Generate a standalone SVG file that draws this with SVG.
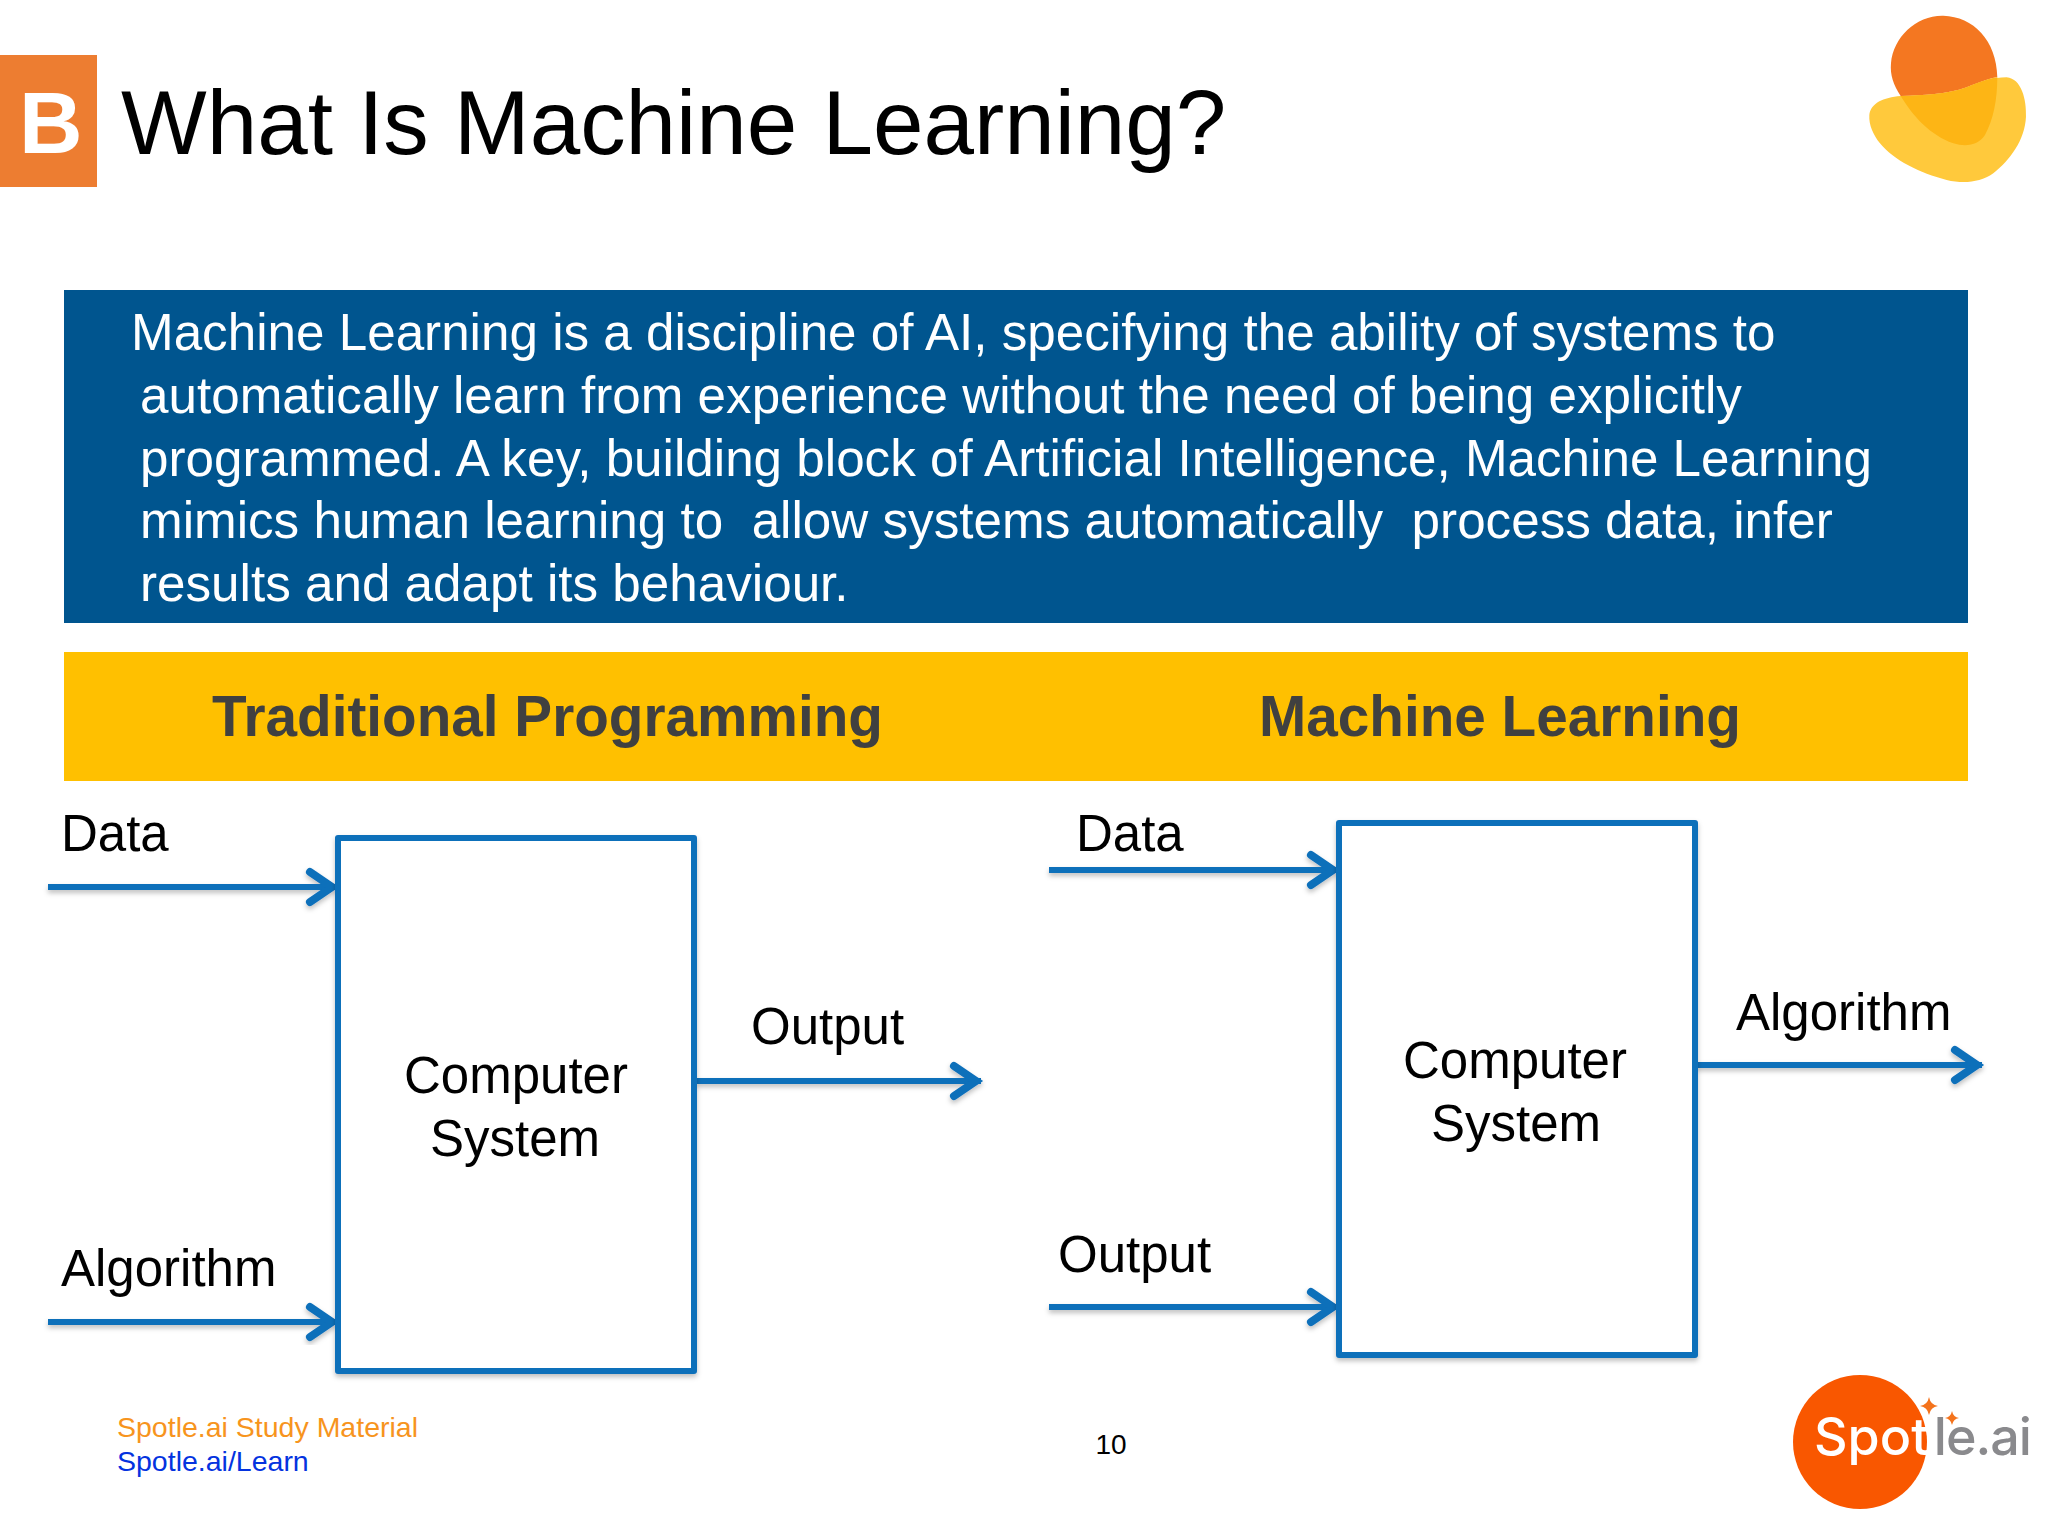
<svg xmlns="http://www.w3.org/2000/svg" width="2048" height="1536" viewBox="0 0 2048 1536">
<style>
text{font-family:"Liberation Sans",Arial,sans-serif;white-space:pre}
.body{font-size:51.2px;fill:#fff}
.head{font-size:56.7px;font-weight:700;fill:#404040}
.lab{font-size:51px;fill:#000}
.box{fill:#fff;stroke:#0F6FBA;stroke-width:6;stroke-linejoin:round}
.arr{fill:none;stroke:#0F6FBA;stroke-width:6;marker-end:url(#chev)}
.mid{text-anchor:middle}
.foot{font-size:28.5px}
</style>
<defs>
<marker id="chev" markerUnits="userSpaceOnUse" markerWidth="50" markerHeight="50" refX="45" refY="25" orient="auto" overflow="visible">
<path d="M18,10 L40,25 L18,40" fill="none" stroke="#0F6FBA" stroke-width="8" stroke-linecap="round" stroke-linejoin="miter"/>
</marker>
<filter id="sh" x="-5%" y="-5%" width="110%" height="110%"><feDropShadow dx="0" dy="3" stdDeviation="2.5" flood-color="#000" flood-opacity=".25"/></filter>
</defs>
<rect width="2048" height="1536" fill="#fff"/>
<g id="badge"><rect x="0" y="55" width="97" height="132" fill="#ED7D31"/><text x="19" y="153" font-size="88" font-weight="700" fill="#fff">B</text></g>
<g id="title"><text x="121" y="154" font-size="90.8" fill="#000">What Is Machine Learning?</text></g>
<g id="corner-logo" transform="translate(1780 0) scale(.3333)">
<path d="M268,345C272,310 310,292 362,288C430,286 500,284 560,262C600,246 640,232 680,232C725,236 740,300 738,350C735,420 690,480 640,520C600,548 550,552 500,540C420,520 340,480 300,430C280,405 266,375 268,345Z" fill="#FFC93C"/>
<path d="M362,288C340,255 330,225 333,190C340,110 410,45 490,47C580,50 650,120 652,232C640,232 600,246 560,262C500,284 430,286 362,288Z" fill="#F47721"/>
<path d="M362,288C430,286 500,284 560,262C600,246 625,236 652,232C652,300 640,360 615,405C595,435 560,442 520,430C450,405 400,350 362,288Z" fill="#FDB515"/>
</g>
<g id="definition"><rect x="64" y="290" width="1904" height="333" fill="#00558F"/>
<text class="body" x="131" y="350">Machine Learning is a discipline of AI, specifying the ability of systems to</text>
<text class="body" x="140" y="413">automatically learn from experience without the need of being explicitly</text>
<text class="body" x="140" y="475.500">programmed. A key, building block of Artificial Intelligence, Machine Learning</text>
<text class="body" x="140" y="538">mimics human learning to  allow systems automatically  process data, infer</text>
<text class="body" x="140" y="601">results and adapt its behaviour.</text></g>
<g id="header"><rect x="64" y="652" width="1904" height="129" fill="#FFC000"/>
<text class="head" x="212" y="736">Traditional Programming</text>
<text class="head" x="1259" y="736">Machine Learning</text></g>
<g id="connectors" filter="url(#sh)">
<line class="arr" x1="48" y1="887" x2="337" y2="887"/>
<line class="arr" x1="48" y1="1322" x2="337" y2="1322"/>
<line class="arr" x1="696" y1="1081" x2="981" y2="1081"/>
<line class="arr" x1="1049" y1="870" x2="1338" y2="870"/>
<line class="arr" x1="1049" y1="1307" x2="1338" y2="1307"/>
<line class="arr" x1="1696" y1="1065" x2="1982" y2="1065"/>
</g>
<g id="system-left"><rect class="box" x="338" y="838" width="356" height="533" filter="url(#sh)"/>
<text class="lab mid" x="516" y="1093">Computer</text><text class="lab mid" x="515" y="1156">System</text></g>
<g id="system-right"><rect class="box" x="1339" y="823" width="356" height="532" filter="url(#sh)"/>
<text class="lab mid" x="1515" y="1078">Computer</text><text class="lab mid" x="1516" y="1141">System</text></g>
<g id="labels">
<text class="lab" x="61" y="851">Data</text>
<text class="lab" x="61" y="1286">Algorithm</text>
<text class="lab" x="751" y="1044">Output</text>
<text class="lab" x="1076" y="851">Data</text>
<text class="lab" x="1058" y="1272">Output</text>
<text class="lab" x="1736" y="1030">Algorithm</text>
</g>
<g id="footer">
<text class="foot" x="117" y="1437" fill="#F7941D">Spotle.ai Study Material</text>
<text class="foot" x="117" y="1471" fill="#0433DF">Spotle.ai/Learn</text>
<text class="foot mid" x="1111" y="1454" fill="#000" style="font-size:28px">10</text>
</g>
<g id="spotle-logo">
<circle cx="1860" cy="1442" r="67" fill="#F95700"/>
<text x="1814" y="1455" font-size="52" style="font-family:Inter,sans-serif;font-weight:500"><tspan fill="#fff">Spot</tspan><tspan fill="#8A8A8D" dx="5" letter-spacing="-1">le.ai</tspan></text>
<path d="M1929,1397q1.500,8 9,9q-7.500,1 -9,9q-1.500,-8 -9,-9q7.500,-1 9,-9ZM1952,1411q1.200,6 7,7q-5.800,1 -7,7q-1.200,-6 -7,-7q5.800,-1 7,-7Z" fill="#F4731C"/>
</g>
</svg>
